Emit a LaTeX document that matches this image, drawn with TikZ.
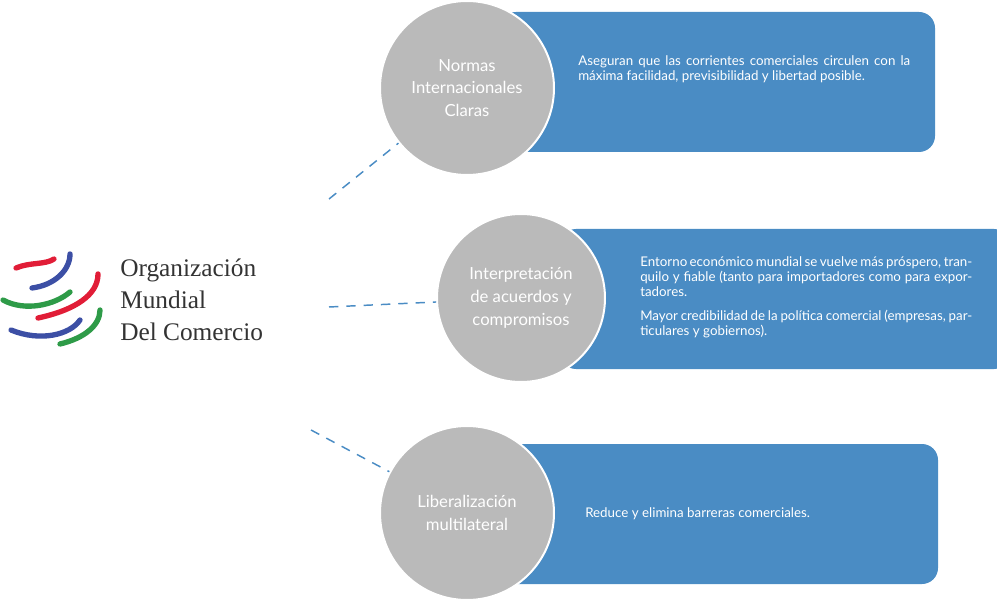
\documentclass[tikz,border=0pt]{standalone}
\usepackage{fontspec}
\setmainfont{Lato}
\newfontfamily\logofont{Liberation Serif}
\begin{document}
\begin{tikzpicture}[x=0.75pt,y=-0.75pt,
 circ/.style={circle,fill=black!27,draw=white,line width=1.5pt,minimum size=174*0.75pt,align=center,text=white,font=\fontsize{12.5}{17}\selectfont,inner sep=0pt},
 box/.style={rounded corners=12pt,fill=blueA},
 dashln/.style={blueA,line width=1.1pt,dash pattern=on 7pt off 6pt},
 txt/.style={text=white,align=justify,font=\fontsize{10}{11.5}\selectfont,anchor=north west,inner sep=0pt},
 arc/.style={line width=4pt,line cap=round}]
\definecolor{blueA}{HTML}{4A8CC4}
\definecolor{wred}{HTML}{E11D37}
\definecolor{wblue}{HTML}{3C4FA5}
\definecolor{wgreen}{HTML}{2E9B48}
\useasboundingbox (0,0) rectangle (997,599);
\clip (0,0) rectangle (997,599);
\fill[box] (500,12) rectangle (935,152);
\fill[box] (560,229) rectangle (1010,369);
\fill[box] (500,444) rectangle (938,584);
\node[circ] (c1) at (467,88) {Normas\\Internacionales\\Claras};
\node[circ,minimum size=168*0.75pt] (c2) at (521,298) {Interpretación\\de acuerdos y\\compromisos};
\node[circ] (c3) at (467,513) {Liberalización\\multilateral};
\node[txt,text width=332*0.75pt] (t1) at (578,55) {Aseguran que las corrientes comerciales circulen con la máxima facilidad, previsibilidad y libertad posible.};
\node[txt,text width=332*0.75pt] (t2) at (640,256) {Entorno económico mundial se vuelve más próspero, tranquilo y fiable (tanto para importadores como para exportadores.\par\vspace{6pt}Mayor credibilidad de la política comercial (empresas, particulares y gobiernos).};
\node[txt,anchor=west] (t3) at (585,514) {Reduce y elimina barreras comerciales.};
\node[anchor=west,inner sep=0pt,align=left,font=\logofont\fontsize{19}{24}\selectfont,text=black!80] (logo) at (120,300) {\textsc{Organización}\\\textsc{Mundial}\\\textsc{Del Comercio}};
\coordinate (l1) at (329,199);
\coordinate (l2) at (329,307);
\coordinate (l3) at (311,430);
\draw[dashln] (l1) -- (c1);
\draw[dashln] (l2) -- (c2);
\draw[dashln] (l3) -- (c3);
\draw[arc,wred] (16,268) .. controls (30,262) and (45,265) .. (54,259);
\draw[arc,wblue] (32,288) .. controls (55,285) and (70,270) .. (70,254);
\draw[arc,wgreen] (3,300) .. controls (25,312) and (55,305) .. (70,292);
\draw[arc,wred] (38,318) .. controls (75,310) and (98,295) .. (98,274);
\draw[arc,wblue] (11,330) .. controls (40,342) and (70,335) .. (80,320);
\draw[arc,wgreen] (60,344) .. controls (85,338) and (100,325) .. (100,310);
\end{tikzpicture}
\end{document}
